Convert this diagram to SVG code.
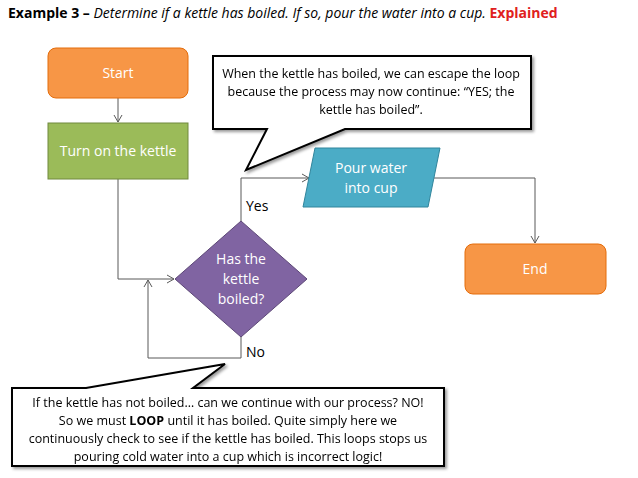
<svg xmlns="http://www.w3.org/2000/svg" width="638" height="478" viewBox="0 0 638 478">
<defs>
<style>
text{font-family:"Open Sans","Liberation Sans",sans-serif}
.w{fill:#fff;font-size:14px;text-anchor:middle}
.b{fill:#000;font-size:12.5px;text-anchor:middle}
.c{fill:none;stroke:#595959;stroke-width:1}
.call{fill:#fff;stroke:#000;stroke-width:2}
</style>
<marker id="a" markerWidth="10" markerHeight="10" refX="8" refY="5" orient="auto" markerUnits="userSpaceOnUse"><path d="M1,1 L8,5 L1,9" fill="none" stroke="#595959" stroke-width="1"/></marker>
<filter id="s"><feDropShadow dx="2" dy="2" stdDeviation="1.5" flood-opacity="0.4"/></filter>
</defs>
<rect width="638" height="478" fill="#fff"/>
<text x="8" y="18" font-size="14" font-family="Open Sans"><tspan font-weight="bold">Example 3 – </tspan><tspan font-style="italic">Determine if a kettle has boiled. If so, pour the water into a cup. </tspan><tspan font-weight="bold" fill="#e02020">Explained</tspan></text>
<g id="connectors">
<path class="c" d="M118,98 V122" marker-end="url(#a)"/>
<path class="c" d="M118,179 V279 H174" marker-end="url(#a)"/>
<path class="c" d="M241,221 V178 H309" marker-end="url(#a)"/>
<path class="c" d="M434,178 H535 V243" marker-end="url(#a)"/>
<path class="c" d="M241,337 V358 H148 V280" marker-end="url(#a)"/>
</g>
<g id="start"><rect x="48" y="48" width="140" height="50" rx="8" fill="#f79646" stroke="#e46c0a"/><text class="w" x="118" y="78">Start</text></g>
<g id="turn"><rect x="48" y="123" width="140" height="56" fill="#9bbb59" stroke="#71893f"/><text class="w" x="118" y="156">Turn on the kettle</text></g>
<g id="decision"><polygon points="241,221 307,279 241,337 175,279" fill="#8064a2" stroke="#5c4776"/><text class="w" x="241" y="264">Has the</text><text class="w" x="241" y="284">kettle</text><text class="w" x="241" y="304">boiled?</text></g>
<g id="pour"><polygon points="315,148 440,148 428,207 303,207" fill="#4bacc6" stroke="#31859c"/><text class="w" x="371" y="173">Pour water</text><text class="w" x="371" y="193">into cup</text></g>
<g id="end"><rect x="465" y="244" width="141" height="50" rx="8" fill="#f79646" stroke="#e46c0a"/><text class="w" x="535" y="274">End</text></g>
<text x="246" y="211" font-size="14">Yes</text>
<text x="246" y="357" font-size="14">No</text>
<g id="callout-top" filter="url(#s)"><path class="call" d="M213,56 H531 V129 H345 L246,170 L267,129 H213 Z"/>
<text class="b" x="371" y="78">When the kettle has boiled, we can escape the loop</text>
<text class="b" x="371" y="96">because the process may now continue: “YES; the</text>
<text class="b" x="371" y="114">kettle has boiled”.</text></g>
<g id="callout-bottom" filter="url(#s)"><path class="call" d="M12,388 H86 L225,364 L193,388 H444 V466 H12 Z"/>
<text class="b" x="228" y="407">If the kettle has not boiled… can we continue with our process? NO!</text>
<text class="b" x="228" y="425">So  we must <tspan font-weight="bold">LOOP</tspan> until it has boiled. Quite simply here we</text>
<text class="b" x="228" y="443">continuously  check to see if the kettle has boiled. This loops stops us</text>
<text class="b" x="228" y="461">pouring cold  water into a cup which is incorrect logic!</text></g>
</svg>
